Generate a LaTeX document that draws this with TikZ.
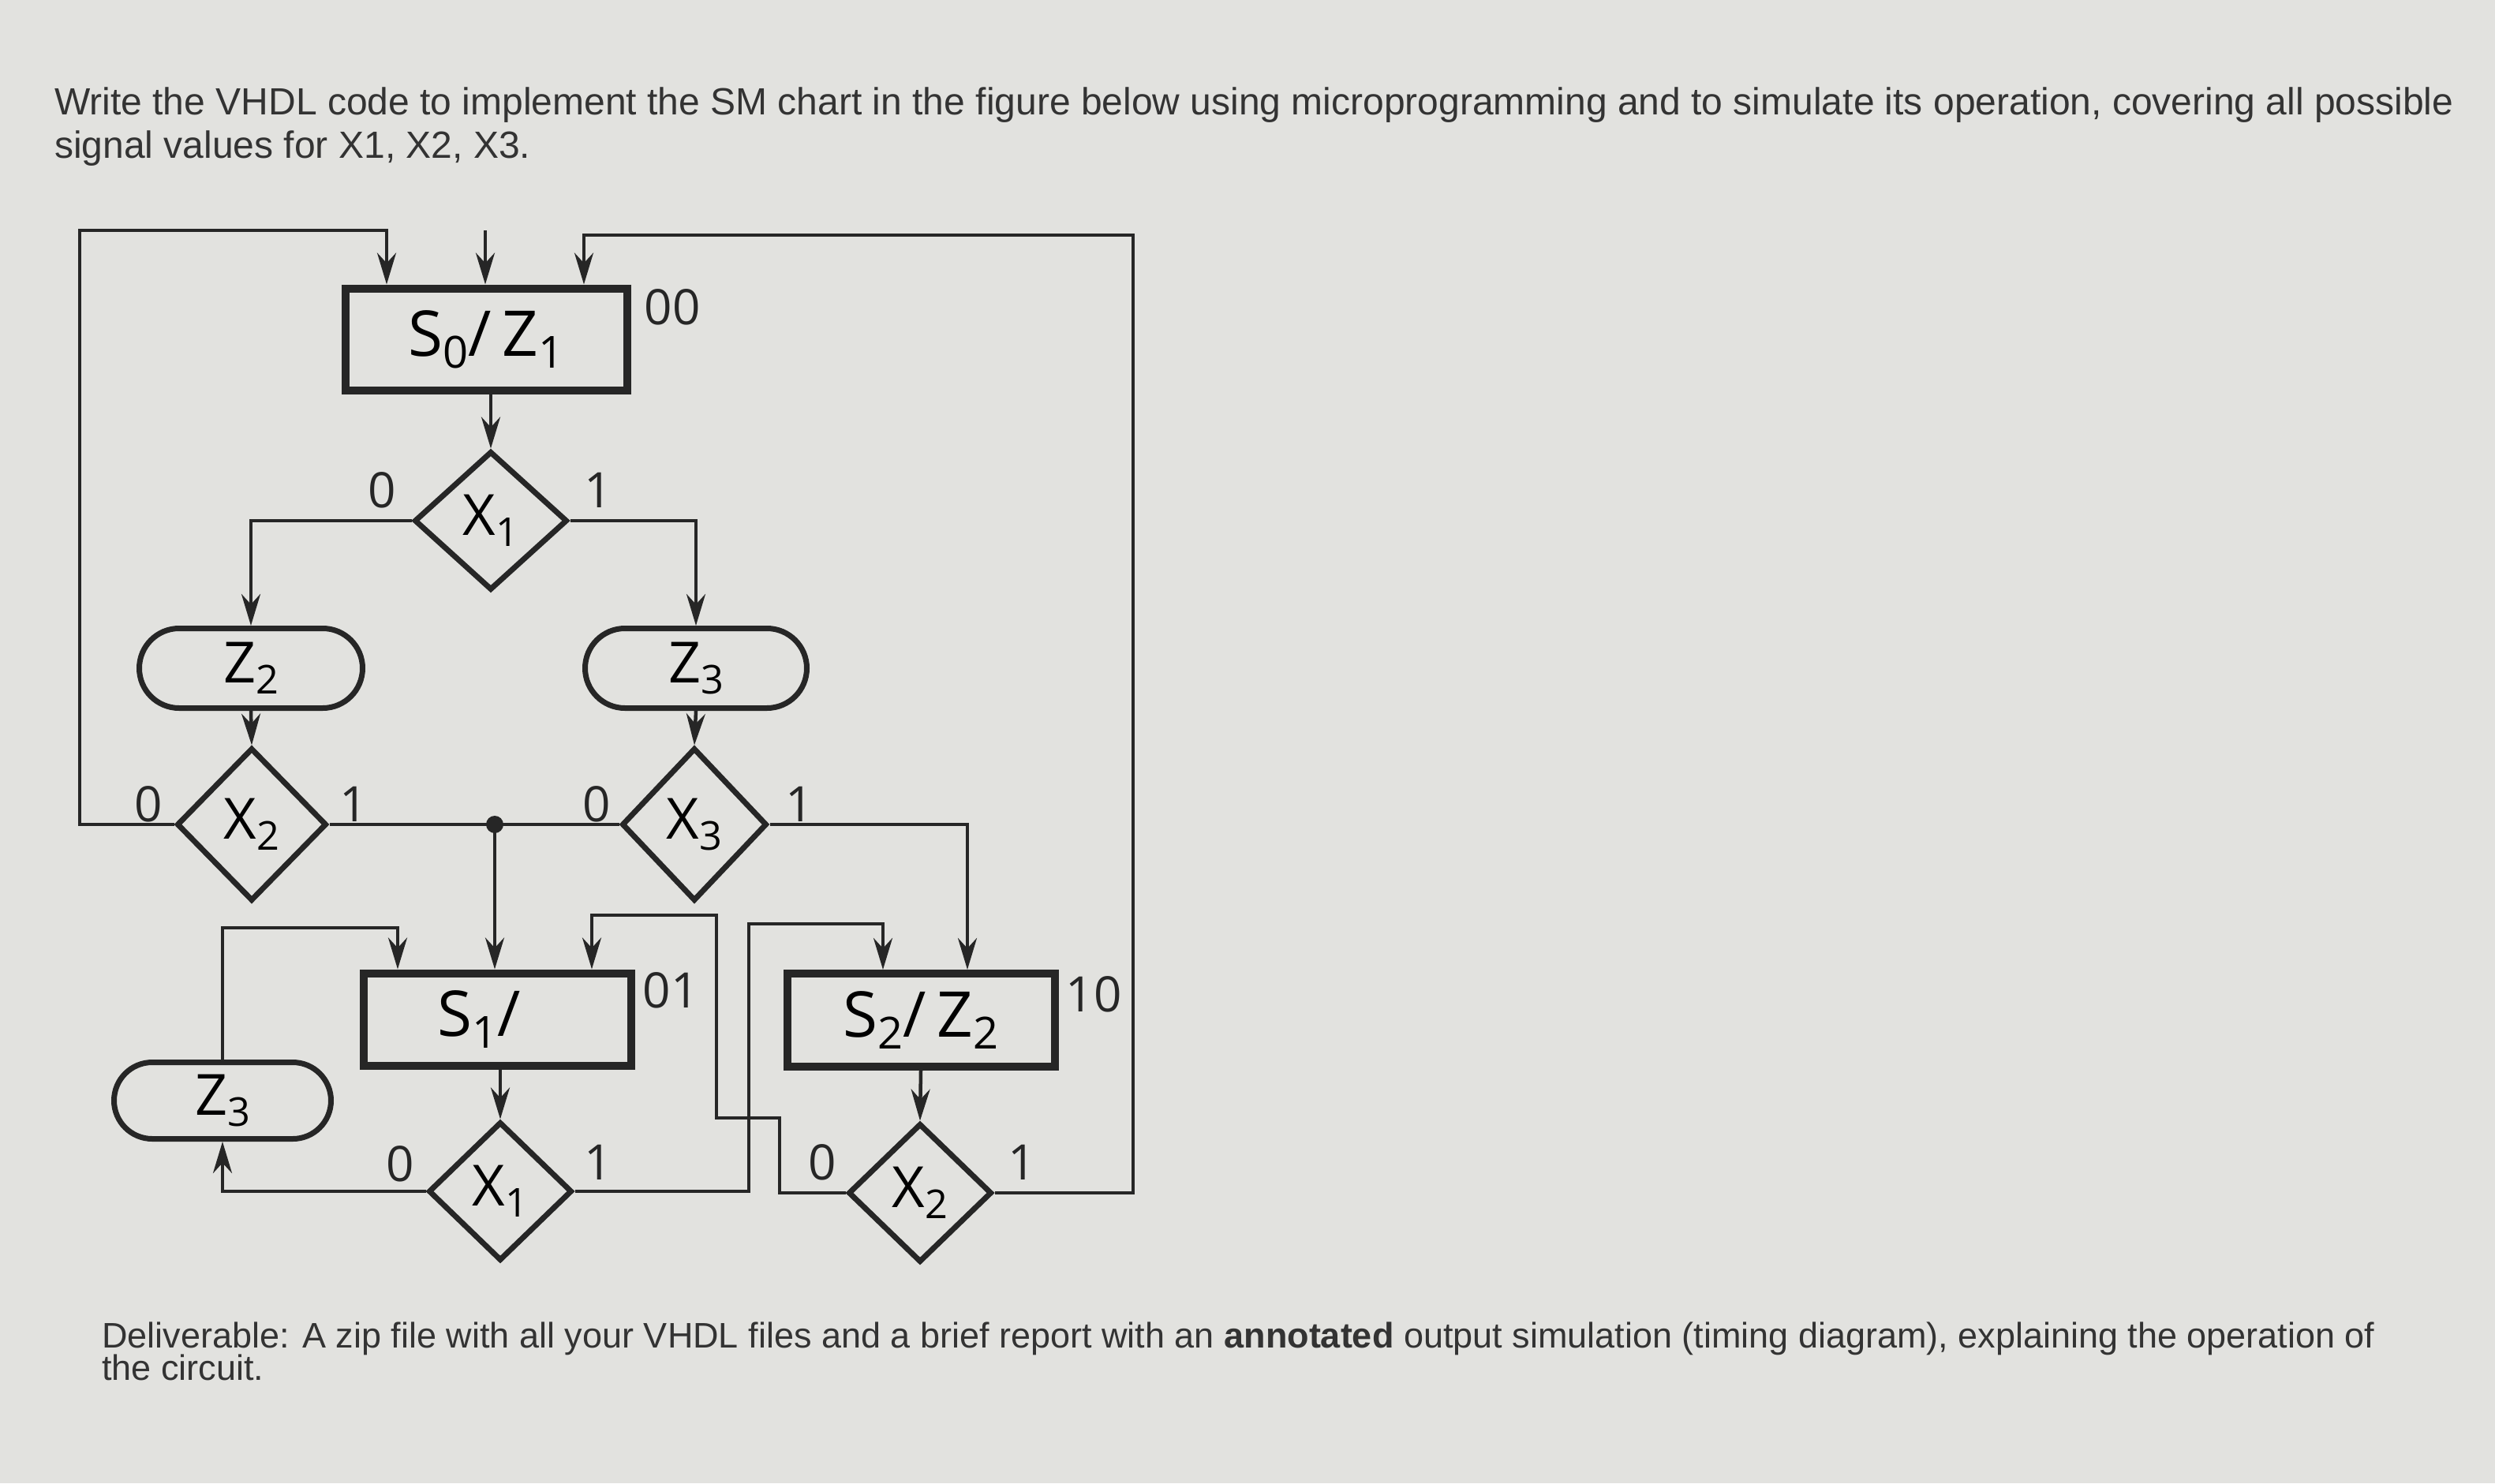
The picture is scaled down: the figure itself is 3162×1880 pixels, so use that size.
\documentclass[tikz,border=0pt]{standalone}
\usepackage{fontspec}
\setmainfont{Liberation Sans}
\newfontfamily\dfont{Open Sans}
\usetikzlibrary{shapes.geometric,shapes.misc,arrows.meta}
\newcommand{\lsub}[1]{\raisebox{-0.35ex}{\scalebox{0.7}{#1}}}
\begin{document}
\begin{tikzpicture}[x=1pt,y=-1pt,
  ln/.style={line width=4.5pt,draw=black!85},
  arr/.style={ln,-{Stealth[length=40pt,width=24pt]}},
  statebox/.style={draw=black!85,line width=10pt,rectangle,inner sep=0pt,font=\dfont\fontsize{80}{90}\selectfont},
  dec/.style={draw=black!85,line width=7pt,diamond,inner sep=0pt,font=\dfont\fontsize{72}{80}\selectfont},
  outbox/.style={draw=black!85,line width=7pt,rounded rectangle,inner sep=0pt,font=\dfont\fontsize{72}{80}\selectfont},
  lab/.style={font=\dfont\fontsize{62}{70}\selectfont,text=black!85,inner sep=0pt},
  txt/.style={font=\fontsize{48}{56}\selectfont,text=black!80,anchor=base west,inner sep=0pt},
  txtb/.style={font=\fontsize{45}{52}\selectfont,text=black!80,anchor=base west,inner sep=0pt}]
\useasboundingbox[fill={rgb,255:red,226;green,226;blue,223}] (0,0) rectangle (3162,1880);
\node[txt] (t1) at (69,145) {Write the VHDL code to implement the SM chart in the figure below using microprogramming and to simulate its operation, covering all possible};
\node[txt] (t2) at (69,200) {signal values for X1, X2, X3.};
\node[txtb] (d1) at (129,1708) {Deliverable: A zip file with all your VHDL files and a brief report with an \textbf{annotated} output simulation (timing diagram), explaining the operation of};
\node[txtb] (d2) at (129,1749) {the circuit.};

\node[statebox,minimum width=357pt,minimum height=129pt] (s0) at (616,430) {S\lsub{0}/\,Z\lsub{1}};
\node[dec,minimum width=194pt,minimum height=176pt] (x1) at (622,660) {X\lsub{1}};
\node[outbox,minimum width=283pt,minimum height=101pt] (z2) at (318,847) {Z\lsub{2}};
\node[outbox,minimum width=281pt,minimum height=101pt] (z3) at (882,847) {Z\lsub{3}};
\node[dec,minimum width=190pt,minimum height=194pt] (x2) at (319,1045) {X\lsub{2}};
\node[dec,minimum width=184pt,minimum height=194pt] (x3) at (880,1045) {X\lsub{3}};
\node[statebox,minimum width=339pt,minimum height=117pt] (s1) at (630,1292) {S\lsub{1}/\phantom{Z}};
\node[statebox,minimum width=339pt,minimum height=118pt] (s2) at (1167,1293) {S\lsub{2}/\,Z\lsub{2}};
\node[outbox,minimum width=275pt,minimum height=97pt] (z3b) at (282,1395) {Z\lsub{3}};
\node[dec,minimum width=182pt,minimum height=176pt] (x1b) at (634,1510) {X\lsub{1}};
\node[dec,minimum width=182pt,minimum height=176pt] (x2b) at (1166,1512) {X\lsub{2}};

\node[lab] (c00) at (852,389) {00};
\node[lab] (c01) at (850,1255) {01};
\node[lab] (c10) at (1386,1260) {10};
\node[lab] (a0) at (484,621) {0};
\node[lab] (a1) at (758,621) {1};
\node[lab] (b0) at (188,1019) {0};
\node[lab] (b1) at (448,1019) {1};
\node[lab] (e0) at (756,1019) {0};
\node[lab] (e1) at (1013,1019) {1};
\node[lab] (f0) at (507,1475) {0};
\node[lab] (f1) at (758,1473) {1};
\node[lab] (g0) at (1042,1473) {0};
\node[lab] (g1) at (1295,1473) {1};

\coordinate (in0) at (615,292);
\coordinate (j) at (627,1045);
\draw[arr] (x2.west) -| (101,292) -| ([xshift=-126pt]s0.north);
\draw[arr] (in0) -- (in0|-s0.north);
\draw[arr] (x2b.east) -| (1436,298) -| ([xshift=124pt]s0.north);
\draw[arr] (x1.north|-s0.south) -- (x1.north);
\draw[arr] (x1.west) -| (z2.north);
\draw[arr] (x1.east) -| (z3.north);
\draw[arr] (z2.south) -- (x2.north);
\draw[arr] (z3.south) -- (x3.north);
\draw[ln] (x2.east) -- (x3.west);
\fill[black!85] (j) circle (11pt);
\draw[arr] (j) -- (j|-s1.north);
\draw[arr] (x3.east) -| ([xshift=59pt]s2.north);
\draw[arr] (z3b.north) |- (504,1176) -- ([xshift=-126pt]s1.north);
\draw[arr] (x2b.west) -| (988,1417) -| (908,1160) -| ([xshift=120pt]s1.north);
\draw[arr] (x1b.east) -| (949,1171) -| ([xshift=-48pt]s2.north);
\draw[arr] (x1b.west) -| (z3b.south);
\draw[arr] (x1b.north|-s1.south) -- (x1b.north);
\draw[arr] (s2.south) -- (x2b.north);
\end{tikzpicture}
\end{document}
